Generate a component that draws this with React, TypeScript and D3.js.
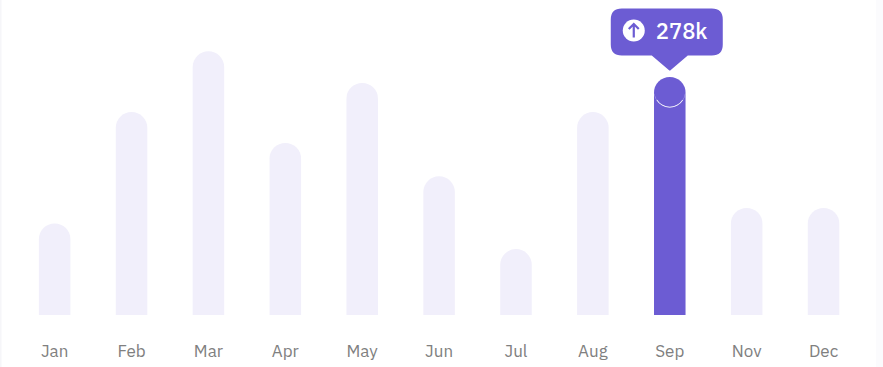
import React from "react";
import * as d3 from "d3";

const months = ["Jan", "Feb", "Mar", "Apr", "May", "Jun", "Jul", "Aug", "Sep", "Nov", "Dec"];
const values = [107, 237, 308, 201, 271, 162, 77, 237, 278, 125, 125];
const activeMonth = "Sep";
const activeLabel = "278k";

const W = 883, H = 367;
const baseY = 315;

export default function App() {
  const x = d3.scaleBand<string>().domain(months).range([16.2, 862]).paddingInner(0.59).paddingOuter(0.295);
  const y = d3.scaleLinear().domain([0, 278]).range([baseY, 77]);
  const bw = x.bandwidth();
  const r = bw / 2;
  const barPath = (m: string, v: number) => {
    const x0 = x(m)!, t = y(v);
    const p = d3.path();
    p.moveTo(x0, baseY);
    p.lineTo(x0, t + r);
    p.arc(x0 + r, t + r, r, Math.PI, 0);
    p.lineTo(x0 + bw, baseY);
    p.closePath();
    return p.toString();
  };
  const ax = x(activeMonth)! + r;
  const av = values[months.indexOf(activeMonth)];
  const cy = y(av) + r;
  const font = "'IBM Plex Sans', Inter, 'Noto Sans', sans-serif";
  const L = ax - 59, R = ax + 53, T = 8.5, B = 55.5, c = 11;
  return (
    <svg width={W} height={H} style={{ position: "absolute", left: 0, top: 0, background: "#fff" }} fontFamily={font}>
      <rect x={0} y={0} width={1.5} height={H} fill="#f6f6f9" />
      <rect x={876} y={0} width={7} height={H} fill="#fbfbfd" />
      {months.map((m, i) => (
        <path key={m} d={barPath(m, values[i])} fill={m === activeMonth ? "#6c5cd3" : "#f1effb"} />
      ))}
      <path
        d={d3.arc()({ innerRadius: r - 0.8, outerRadius: r - 0.1, startAngle: Math.PI * 0.68, endAngle: Math.PI * 1.32 }) ?? ""}
        transform={`translate(${ax},${cy - 1})`}
        fill="#fff"
      />
      <path
        d={d3.arc()({ innerRadius: r - 0.5, outerRadius: r - 0.1, startAngle: Math.PI * 0.54, endAngle: Math.PI * 1.46 }) ?? ""}
        transform={`translate(${ax},${cy - 1})`}
        fill="#fff"
        opacity={0.45}
      />
      <path
        d={`M${L + c},${T} H${R - c} Q${R},${T} ${R},${T + c} V${B - c} Q${R},${B} ${R - c},${B} H${ax + 18} L${ax + 1},${70} Q${ax},${71} ${ax - 1},${70} L${ax - 18},${B} H${L + c} Q${L},${B} ${L},${B - c} V${T + c} Q${L},${T} ${L + c},${T} Z`}
        fill="#6c5cd3"
      />
      <circle cx={ax - 36} cy={30.5} r={11} fill="#fff" />
      <path
        d={`M${ax - 36},37.5 V24.5 M${ax - 41},29 L${ax - 36},24 L${ax - 31},29`}
        fill="none"
        stroke="#6c5cd3"
        strokeWidth={2.2}
      />
      <text x={ax - 14} y={39} fontSize={22} fill="#fff" fontWeight={500}>{activeLabel}</text>
      {months.map((m) => (
        <text key={m} x={x(m)! + r} y={356.5} textAnchor="middle" fontSize={17} fill="#808080">{m}</text>
      ))}
    </svg>
  );
}
